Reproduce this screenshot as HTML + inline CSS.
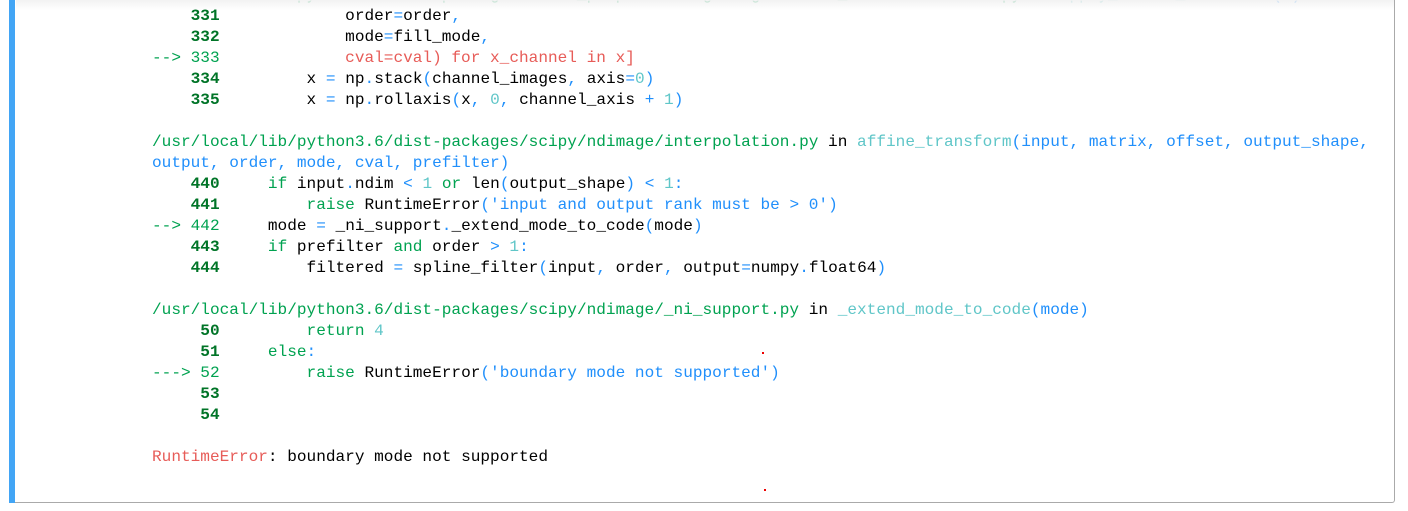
<!DOCTYPE html>
<html><head><meta charset="utf-8"><style>
html,body{margin:0;padding:0;background:#fff;width:1408px;height:511px;overflow:hidden;position:relative}
.box{position:absolute;left:9px;top:-5px;width:1386px;height:508px;border-right:1px solid #aaa;border-bottom:1px solid #aaa;border-radius:0 0 3px 0;box-sizing:border-box}
.bar{position:absolute;left:9px;top:0;width:6px;height:503px;background:#42A5F5}
pre{position:absolute;left:152px;top:-15.5px;margin:0;font-family:"Liberation Mono",monospace;font-size:16.1px;line-height:21px;color:#000}
.g{color:#00A250}.n{color:#007427;font-weight:bold}.c{color:#60C6C8}.b{color:#208FFB}.r{color:#E75C58}
.fade{position:absolute;left:16px;top:0;width:1378px;height:10px;background:linear-gradient(#f2f2f2,rgba(255,255,255,0))}
.dot{position:absolute;width:2px;height:2px;background:#e00}
</style></head><body>
<div class="box"></div><div class="bar"></div>
<pre><span class="g">/usr/local/lib/python3.6/dist-packages/keras_preprocessing/image/affine_transformations.py</span> in <span class="c">apply_affine_transform</span><span class="b">(x)</span>
<span class="n">    331</span>             order<span class="b">=</span>order<span class="b">,</span>
<span class="n">    332</span>             mode<span class="b">=</span>fill_mode<span class="b">,</span>
<span class="g">--&gt; 333</span><span class="r">             cval=cval) for x_channel in x]</span>
<span class="n">    334</span>         x <span class="b">=</span> np<span class="b">.</span>stack<span class="b">(</span>channel_images<span class="b">,</span> axis<span class="b">=</span><span class="c">0</span><span class="b">)</span>
<span class="n">    335</span>         x <span class="b">=</span> np<span class="b">.</span>rollaxis<span class="b">(</span>x<span class="b">,</span> <span class="c">0</span><span class="b">,</span> channel_axis <span class="b">+</span> <span class="c">1</span><span class="b">)</span>

<span class="g">/usr/local/lib/python3.6/dist-packages/scipy/ndimage/interpolation.py</span> in <span class="c">affine_transform</span><span class="b">(input, matrix, offset, output_shape,</span>
<span class="b">output, order, mode, cval, prefilter)</span>
<span class="n">    440</span>     <span class="g">if</span> input<span class="b">.</span>ndim <span class="b">&lt;</span> <span class="c">1</span> <span class="g">or</span> len<span class="b">(</span>output_shape<span class="b">)</span> <span class="b">&lt;</span> <span class="c">1</span><span class="b">:</span>
<span class="n">    441</span>         <span class="g">raise</span> RuntimeError<span class="b">('input and output rank must be &gt; 0')</span>
<span class="g">--&gt; 442</span>     mode <span class="b">=</span> _ni_support<span class="b">.</span>_extend_mode_to_code<span class="b">(</span>mode<span class="b">)</span>
<span class="n">    443</span>     <span class="g">if</span> prefilter <span class="g">and</span> order <span class="b">&gt;</span> <span class="c">1</span><span class="b">:</span>
<span class="n">    444</span>         filtered <span class="b">=</span> spline_filter<span class="b">(</span>input<span class="b">,</span> order<span class="b">,</span> output<span class="b">=</span>numpy<span class="b">.</span>float64<span class="b">)</span>

<span class="g">/usr/local/lib/python3.6/dist-packages/scipy/ndimage/_ni_support.py</span> in <span class="c">_extend_mode_to_code</span><span class="b">(mode)</span>
<span class="n">     50</span>         <span class="g">return</span> <span class="c">4</span>
<span class="n">     51</span>     <span class="g">else</span><span class="b">:</span>
<span class="g">---&gt; 52</span>         <span class="g">raise</span> RuntimeError<span class="b">('boundary mode not supported')</span>
<span class="n">     53</span>
<span class="n">     54</span>

<span class="r">RuntimeError</span>: boundary mode not supported</pre>
<div class="fade"></div>
<div class="dot" style="left:762px;top:352px"></div>
<div class="dot" style="left:764px;top:489px"></div>
</body></html>
